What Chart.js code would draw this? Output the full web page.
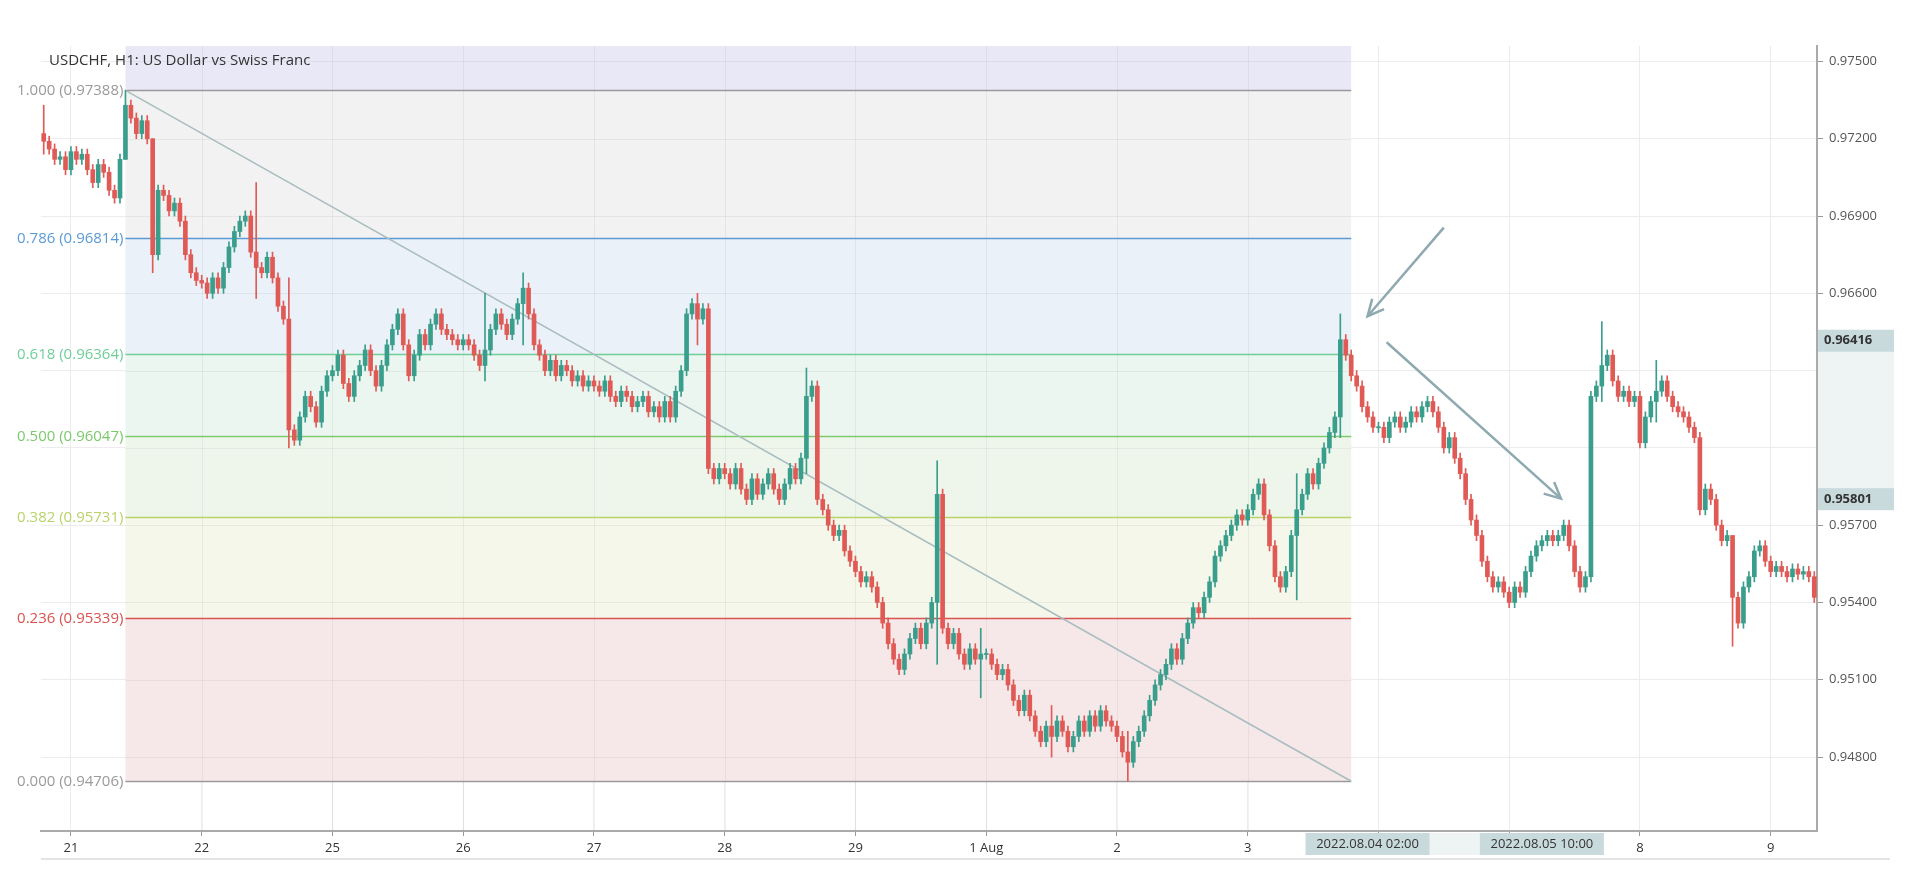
<!DOCTYPE html>
<html>
<head>
<meta charset="utf-8">
<script src="https://cdn.jsdelivr.net/npm/chart.js@4"></script>
<style>
  html, body { margin: 0; padding: 0; background: #fff; }
  #wrap { width: 1920px; height: 883px; }
</style>
</head>
<body>
<div id="wrap"><canvas id="chart" width="1920" height="883"></canvas></div>
<script>
// USDCHF H1 closes, one row per trading day
const days = ['20', '21', '22', '25', '26', '27', '28', '29', '1 Aug', '2', '3', '4', '5', '8', '9'];
const closesByDay = [
    [0.9719, 0.9716, 0.9712, 0.9713, 0.9708],
    [0.9715, 0.9712, 0.9714, 0.9708, 0.9703, 0.9710, 0.9707, 0.9700, 0.9697, 0.9712, 0.9733, 0.9728, 0.9722, 0.9727, 0.9720, 0.9675, 0.9700, 0.9698, 0.9692, 0.9695, 0.9688, 0.9675, 0.9668, 0.9665],
    [0.9664, 0.9660, 0.9666, 0.9662, 0.9670, 0.9678, 0.9684, 0.9688, 0.9690, 0.9676, 0.9670, 0.9668, 0.9674, 0.9666, 0.9655, 0.9650, 0.9607, 0.9603, 0.9612, 0.9620, 0.9616, 0.9610, 0.9622, 0.9628],
    [0.9630, 0.9636, 0.9625, 0.9620, 0.9628, 0.9632, 0.9638, 0.9630, 0.9624, 0.9632, 0.9640, 0.9646, 0.9652, 0.9640, 0.9628, 0.9636, 0.9644, 0.9640, 0.9648, 0.9652, 0.9646, 0.9644, 0.9642, 0.9640],
    [0.9642, 0.9640, 0.9636, 0.9632, 0.9638, 0.9646, 0.9652, 0.9648, 0.9644, 0.9650, 0.9656, 0.9662, 0.9652, 0.9640, 0.9636, 0.9630, 0.9634, 0.9628, 0.9632, 0.9630, 0.9626, 0.9628, 0.9624, 0.9626],
    [0.9624, 0.9622, 0.9626, 0.9620, 0.9618, 0.9622, 0.9620, 0.9616, 0.9618, 0.9620, 0.9614, 0.9616, 0.9612, 0.9618, 0.9612, 0.9622, 0.9630, 0.9652, 0.9656, 0.9650, 0.9654, 0.9592, 0.9588, 0.9592],
    [0.9590, 0.9586, 0.9592, 0.9584, 0.9580, 0.9588, 0.9582, 0.9586, 0.9590, 0.9584, 0.9580, 0.9586, 0.9592, 0.9588, 0.9596, 0.9620, 0.9624, 0.9580, 0.9576, 0.9570, 0.9566, 0.9568, 0.9560, 0.9556],
    [0.9552, 0.9548, 0.9550, 0.9546, 0.9540, 0.9532, 0.9524, 0.9518, 0.9514, 0.9520, 0.9526, 0.9530, 0.9524, 0.9532, 0.9540, 0.9582, 0.9530, 0.9524, 0.9528, 0.9520, 0.9516, 0.9522, 0.9518, 0.9520],
    [0.9520, 0.9516, 0.9512, 0.9514, 0.9508, 0.9502, 0.9498, 0.9504, 0.9496, 0.9490, 0.9486, 0.9492, 0.9488, 0.9494, 0.9490, 0.9484, 0.9488, 0.9494, 0.9490, 0.9496, 0.9492, 0.9498, 0.9494, 0.9492],
    [0.9488, 0.9482, 0.9478, 0.9486, 0.9490, 0.9496, 0.9502, 0.9508, 0.9512, 0.9516, 0.9522, 0.9518, 0.9526, 0.9532, 0.9538, 0.9536, 0.9542, 0.9548, 0.9558, 0.9562, 0.9566, 0.9570, 0.9574, 0.9572],
    [0.9576, 0.9582, 0.9586, 0.9574, 0.9562, 0.9550, 0.9546, 0.9552, 0.9566, 0.9576, 0.9582, 0.9590, 0.9586, 0.9594, 0.9600, 0.9606, 0.9612, 0.9642, 0.9636, 0.9628, 0.9624, 0.9616, 0.9612, 0.9608],
    [0.9608, 0.9604, 0.9610, 0.9612, 0.9608, 0.9610, 0.9614, 0.9612, 0.9616, 0.9618, 0.9614, 0.9608, 0.9600, 0.9604, 0.9596, 0.9590, 0.9580, 0.9572, 0.9566, 0.9556, 0.9550, 0.9546, 0.9548, 0.9544],
    [0.9540, 0.9546, 0.9544, 0.9552, 0.9558, 0.9562, 0.9564, 0.9566, 0.9564, 0.9566, 0.9570, 0.9562, 0.9552, 0.9546, 0.9550, 0.9620, 0.9624, 0.9632, 0.9636, 0.9626, 0.9620, 0.9622, 0.9618, 0.9620],
    [0.9602, 0.9612, 0.9618, 0.9622, 0.9626, 0.9620, 0.9616, 0.9614, 0.9612, 0.9608, 0.9604, 0.9576, 0.9584, 0.9580, 0.9570, 0.9564, 0.9566, 0.9542, 0.9532, 0.9546, 0.9550, 0.9560, 0.9562, 0.9556],
    [0.9552, 0.9554, 0.9552, 0.9550, 0.9553, 0.9551, 0.9552, 0.9550, 0.9542]
];
const firstOpen = 0.9722;
const defaultWick = 0.0002;
// [candle index, high, low] where a wick sticks out further
const longWicks = [
    [0, 0.9733, 0.9714], [15, 0.97388, 0.9726], [20, 0.9690, 0.9668], [39, 0.9703, 0.9658],
    [45, 0.9666, 0.9600], [81, 0.9660, 0.9626], [88, 0.9668, 0.9640], [120, 0.9660, 0.9640],
    [140, 0.9631, 0.9590], [164, 0.9595, 0.9516], [172, 0.9530, 0.9503], [185, 0.9500, 0.9480],
    [199, 0.9490, 0.94706], [230, 0.9590, 0.9541], [238, 0.9652, 0.9604], [286, 0.9649, 0.9618],
    [310, 0.9550, 0.9523], [296, 0.9634, 0.9610]
];
const yTicks = [0.948, 0.951, 0.954, 0.957, 0.960, 0.963, 0.966, 0.969, 0.972, 0.975];
const fibRatios = ['1.000', '0.786', '0.618', '0.500', '0.382', '0.236', '0.000'];
const fibPrices = [0.97388, 0.96814, 0.96364, 0.96047, 0.95731, 0.95339, 0.94706];
const fibColors = ['#9a9a9a', '#5b9bd5', '#6fcf97', '#7cc96b', '#b9d36a', '#d9534f', '#9a9a9a'];
const fibFills = ['#f2f2f2', '#eaf1f8', '#ebf6f0', '#eef6ec', '#f4f7e9', '#f6e8e8'];
const fibStart = 15, fibEnd = 240;
const priceTags = [0.96416, 0.95801];
const timeTags = [[243, '2022.08.04 02:00'], [275, '2022.08.05 10:00']];
// arrows: [fromIndex, fromPrice, toIndex, toPrice]
const arrows = [[257, 0.96855, 243, 0.96511], [246.5, 0.96410, 278.5, 0.95803]];

// build candles
const labels = [], dayStart = {}, opens = [], closes = [], highs = [], lows = [];
let prev = firstOpen;
closesByDay.forEach((day, d) => {
    day.forEach((c, h) => {
        if (h === 0) dayStart[labels.length] = days[d];
        labels.push(days[d] + ' ' + h);
        opens.push(prev);
        closes.push(c);
        highs.push(Math.max(prev, c) + defaultWick);
        lows.push(Math.min(prev, c) - defaultWick);
        prev = c;
    });
});
longWicks.forEach(([i, hi, lo]) => {
    highs[i] = Math.max(hi, opens[i], closes[i]);
    lows[i] = Math.min(lo, opens[i], closes[i]);
});
delete dayStart[0];

const UP = '#3a9e8c', DOWN = '#e05a56';
const colors = closes.map((c, i) => c >= opens[i] ? UP : DOWN);

const overlay = {
    id: 'overlay',
    beforeDatasetsDraw(chart) {
        const { ctx, scales: { x, y }, chartArea: a } = chart;
        const x0 = x.getPixelForValue(fibStart), x1 = x.getPixelForValue(fibEnd);
        ctx.save();
        ctx.fillStyle = '#e9e8f6';
        ctx.fillRect(x0, a.top, x1 - x0, y.getPixelForValue(fibPrices[0]) - a.top);
        for (let i = 0; i < fibFills.length; i++) {
            const t = y.getPixelForValue(fibPrices[i]), b = y.getPixelForValue(fibPrices[i + 1]);
            ctx.fillStyle = fibFills[i];
            ctx.fillRect(x0, t, x1 - x0, b - t);
        }
        // redraw grid faintly over bands
        ctx.strokeStyle = 'rgba(0,0,0,0.05)';
        ctx.lineWidth = 1;
        yTicks.forEach(v => {
            const py = Math.round(y.getPixelForValue(v)) + 0.5;
            ctx.beginPath(); ctx.moveTo(x0, py); ctx.lineTo(x1, py); ctx.stroke();
        });
        Object.keys(dayStart).forEach(k => {
            const px = Math.round(x.getPixelForValue(+k)) + 0.5;
            if (px < x0 || px > x1) return;
            ctx.beginPath(); ctx.moveTo(px, a.top); ctx.lineTo(px, a.bottom); ctx.stroke();
        });
        ctx.font = '15px "Open Sans", sans-serif';
        ctx.textAlign = 'right';
        ctx.textBaseline = 'middle';
        fibPrices.forEach((p, i) => {
            const py = Math.round(y.getPixelForValue(p)) + 0.5;
            ctx.strokeStyle = fibColors[i];
            ctx.lineWidth = 1.5;
            ctx.beginPath(); ctx.moveTo(x0, py); ctx.lineTo(x1, py); ctx.stroke();
            ctx.fillStyle = fibColors[i];
            ctx.fillText(fibRatios[i] + ' (' + p.toFixed(5) + ')', x0 - 2, py);
        });
        // trend line
        ctx.strokeStyle = '#a9bcc0';
        ctx.lineWidth = 1.5;
        ctx.beginPath();
        ctx.moveTo(x0, y.getPixelForValue(fibPrices[0]));
        ctx.lineTo(x1, y.getPixelForValue(fibPrices[6]));
        ctx.stroke();
        ctx.restore();
    },
    afterDraw(chart) {
        const { ctx, scales: { x, y }, chartArea: a } = chart;
        ctx.save();
        // title
        ctx.font = '15px "Open Sans", sans-serif';
        ctx.fillStyle = '#333';
        ctx.textAlign = 'left';
        ctx.textBaseline = 'middle';
        ctx.fillText('USDCHF, H1: US Dollar vs Swiss Franc', 49, 61);
        // arrows
        ctx.strokeStyle = '#8eaab0';
        ctx.lineWidth = 2.5;
        arrows.forEach(([i0, p0, i1, p1]) => {
            const ax = x.getPixelForValue(i0), ay = y.getPixelForValue(p0);
            const bx = x.getPixelForValue(i1), by = y.getPixelForValue(p1);
            const ang = Math.atan2(by - ay, bx - ax);
            ctx.beginPath(); ctx.moveTo(ax, ay); ctx.lineTo(bx, by); ctx.stroke();
            ctx.beginPath();
            ctx.moveTo(bx - 18 * Math.cos(ang - 0.45), by - 18 * Math.sin(ang - 0.45));
            ctx.lineTo(bx, by);
            ctx.lineTo(bx - 18 * Math.cos(ang + 0.45), by - 18 * Math.sin(ang + 0.45));
            ctx.stroke();
        });
        // price tags on right axis
        ctx.font = 'bold 13px "Open Sans", sans-serif';
        ctx.fillStyle = '#eef3f3';
        ctx.fillRect(a.right + 1, y.getPixelForValue(priceTags[0]), 76, y.getPixelForValue(priceTags[1]) - y.getPixelForValue(priceTags[0]));
        priceTags.forEach(p => {
            const py = y.getPixelForValue(p);
            ctx.fillStyle = '#c9dadc';
            ctx.fillRect(a.right + 1, py - 11, 76, 22);
            ctx.fillStyle = '#333';
            ctx.textAlign = 'left';
            ctx.fillText(p.toFixed(5), a.right + 7, py);
        });
        // time tags on x axis
        ctx.font = '13px "Open Sans", sans-serif';
        const tx0 = x.getPixelForValue(timeTags[0][0]), tx1 = x.getPixelForValue(timeTags[1][0]);
        ctx.fillStyle = '#eef3f3';
        ctx.fillRect(tx0, a.bottom + 2, tx1 - tx0, 22);
        timeTags.forEach(([i, t]) => {
            const px = x.getPixelForValue(i);
            ctx.fillStyle = '#c9dadc';
            ctx.fillRect(px - 62, a.bottom + 2, 124, 22);
            ctx.fillStyle = '#333';
            ctx.textAlign = 'center';
            ctx.fillText(t, px, a.bottom + 13);
        });
        ctx.strokeStyle = '#e4e4e4';
        ctx.lineWidth = 2;
        ctx.beginPath(); ctx.moveTo(41, 859); ctx.lineTo(1890, 859); ctx.stroke();
        ctx.restore();
    }
};

new Chart(document.getElementById('chart'), {
    type: 'bar',
    data: {
        labels: labels,
        datasets: [
            {
                label: 'wick',
                data: highs.map((h, i) => [lows[i], h]),
                backgroundColor: colors,
                barThickness: 1,
                grouped: false
            },
            {
                label: 'body',
                data: opens.map((o, i) => Math.abs(o - closes[i]) < 0.00004 ? [o - 0.00002, o + 0.00002] : [o, closes[i]]),
                backgroundColor: colors,
                barThickness: 4,
                grouped: false
            }
        ]
    },
    options: {
        responsive: false,
        animation: false,
        layout: { padding: { left: 41, top: 46, right: 0, bottom: 0 } },
        plugins: { legend: { display: false }, tooltip: { enabled: false } },
        scales: {
            x: {
                offset: true,
                grid: {
                    offset: false,
                    color: ctx => dayStart[ctx.index] ? '#ececec' : 'rgba(0,0,0,0)',
                    drawTicks: true,
                    tickLength: 5,
                    tickColor: ctx => dayStart[ctx.index] ? '#999' : 'rgba(0,0,0,0)'
                },
                border: { color: '#aaa', width: 2 },
                ticks: {
                    autoSkip: false,
                    maxRotation: 0,
                    color: '#333',
                    font: { family: '"Open Sans", sans-serif', size: 13 },
                    padding: 4,
                    callback: (v, i) => dayStart[i] || ''
                },
                afterFit: s => { s.height = 52; }
            },
            y: {
                position: 'right',
                min: 0.94513,
                max: 0.97560,
                afterBuildTicks: s => { s.ticks = yTicks.map(v => ({ value: v })); },
                grid: { color: '#ececec', tickLength: 6, tickColor: '#999' },
                border: { color: '#aaa', width: 2 },
                ticks: {
                    color: '#555',
                    font: { family: '"Open Sans", sans-serif', size: 13 },
                    padding: 6,
                    callback: v => v.toFixed(5)
                },
                afterFit: s => { s.width = 103; }
            }
        }
    },
    plugins: [overlay]
});
</script>
</body>
</html>
